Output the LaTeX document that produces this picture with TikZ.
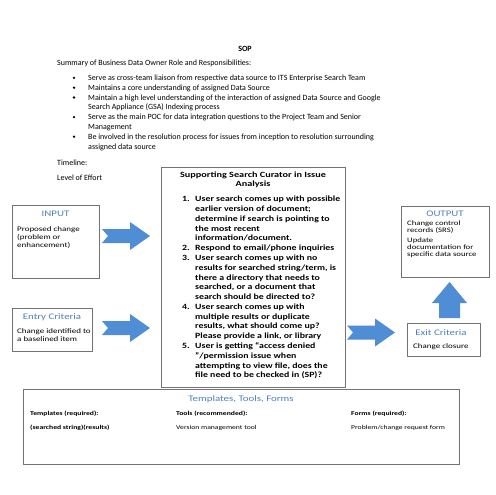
\documentclass[tikz,border=0pt]{standalone}
\usepackage{fontspec}
\setmainfont{Carlito}
\newfontfamily\widefont{Carlito}[FakeStretch=1.28]
\newfontfamily\stepfont{Carlito}[FakeStretch=1.23]
\usetikzlibrary{positioning}
\definecolor{titleblue}{RGB}{79,129,189}
\definecolor{arrowblue}{RGB}{79,141,212}
\definecolor{boxgray}{RGB}{115,115,115}
\newcommand{\bodysize}{\fontsize{8}{9.8}\selectfont}
\newcommand{\boxsize}{\widefont\fontsize{7}{8}\selectfont}
\newcommand{\outsize}{\widefont\fontsize{6.8}{7.3}\selectfont}
\newcommand{\stepsize}{\stepfont\fontsize{8}{9.78}\selectfont\bfseries}
\newcommand{\tablesize}{\widefont\fontsize{6}{7}\selectfont}

% multi-line nodes sit on the base line of their last line
\tikzset{
  txt/.style={anchor=base west, align=left, inner sep=0pt},
  boxframe/.style={draw=boxgray, line width=0.8pt},
  boxtitle/.style={anchor=base, inner sep=0pt, text=titleblue, font=\widefont\fontsize{8.5}{10}\selectfont},
  rarrow/.pic={\fill[arrowblue] (0,-7) -- (28,-7) -- (28,-14) -- (48,0) -- (28,14) -- (28,7) -- (0,7) -- (6,0) -- cycle;}
}

\begin{document}
\begin{tikzpicture}[x=1pt,y=-1pt]
  \useasboundingbox[fill=white] (0,0) rectangle (495,495);

  % heading and summary
  \node[anchor=base, inner sep=0pt, font=\bodysize\bfseries] (sop) at (245,51.5) {SOP};
  \node[txt, font=\bodysize] (summary) at (57,65.5) {Summary of Business Data Owner Role and Responsibilities:};
  \foreach \y in {80.5,90.3,100.1,119.7,139.3}
    \fill (74,\y-2.6) circle (1.3pt);
  \node[txt, font=\bodysize] (b1) at (88,80.5) {Serve as cross-team liaison from respective data source to ITS Enterprise Search Team};
  \node[txt, font=\bodysize] (b2) at (88,90.3) {Maintains a core understanding of assigned Data Source};
  \node[txt, font=\bodysize] (b3) at (88,109.9) {Maintain a high level understanding of the interaction of assigned Data Source and Google\\Search Appliance (GSA) Indexing process};
  \node[txt, font=\bodysize] (b4) at (88,129.5) {Serve as the main POC for data integration questions to the Project Team and Senior\\Management};
  \node[txt, font=\bodysize] (b5) at (88,149.1) {Be involved in the resolution process for issues from inception to resolution surrounding\\assigned data source};
  \node[txt, font=\bodysize] (timeline) at (57,165.5) {Timeline:};
  \node[txt, font=\bodysize] (effort) at (57,180.5) {Level of Effort};

  % input side
  \draw[boxframe] (12,205) rectangle (99,278);
  \node[boxtitle] (input) at (55.5,216) {INPUT};
  \node[txt, font=\boxsize] (inputtext) at (17,247.5) {Proposed change\\(problem or\\enhancement)};
  \draw[boxframe] (12,308) rectangle (92,351);
  \node[boxtitle] (entry) at (52,319) {Entry Criteria};
  \node[txt, font=\boxsize] (entrytext) at (17,341) {Change identified to\\a baselined item};
  \pic at (102,236) {rarrow};
  \pic at (102,328) {rarrow};

  % curator box
  \draw[boxframe] (161,167) rectangle (345,387);
  \node[anchor=base, align=center, inner sep=0pt, font=\widefont\fontsize{8}{9}\selectfont\bfseries] (curator) at (253,186.7) {Supporting Search Curator in Issue\\Analysis};
  \node[txt, font=\stepsize] (n1) at (182,201.8) {1.};
  \node[txt, font=\stepsize] (s1) at (195,240.9) {User search comes up with possible\\earlier version of document;\\determine if search is pointing to\\the most recent\\information/document.};
  \node[txt, font=\stepsize] (n2) at (182,250.7) {2.};
  \node[txt, font=\stepsize] (s2) at (195,250.7) {Respond to email/phone inquiries};
  \node[txt, font=\stepsize] (n3) at (182,260.5) {3.};
  \node[txt, font=\stepsize] (s3) at (195,299.6) {User search comes up with no\\results for searched string/term, is\\there a directory that needs to\\searched, or a document that\\search should be directed to?};
  \node[txt, font=\stepsize] (n4) at (182,309.4) {4.};
  \node[txt, font=\stepsize] (s4) at (195,338.7) {User search comes up with\\multiple results or duplicate\\results, what should come up?\\Please provide a link, or library};
  \node[txt, font=\stepsize] (n5) at (182,348.5) {5.};
  \node[txt, font=\stepsize] (s5) at (195,377.8) {User is getting “access denied\\”/permission issue when\\attempting to view file, does the\\file need to be checked in (SP)?};

  % output side
  \pic at (347,332.5) {rarrow};
  \draw[boxframe] (407,323) rectangle (480,356);
  \node[boxtitle] (exit) at (441,335) {Exit Criteria};
  \node[txt, font=\boxsize] (exittext) at (413,348.5) {Change closure};
  \fill[arrowblue] (439,318) -- (439,303) -- (432,303) -- (449.5,282) -- (467,303) -- (460,303) -- (460,318) -- cycle;
  \draw[boxframe] (401,206) rectangle (489,277);
  \node[boxtitle] (output) at (445,216) {OUTPUT};
  \node[txt, font=\outsize] (outtext) at (407,232.6) {Change control\\records (SRS)};
  \node[txt, font=\outsize] (updtext) at (407,256.6) {Update\\documentation for\\specific data source};

  % templates, tools, forms
  \draw[boxframe] (23,389) rectangle (459,464);
  \node[boxtitle, font=\widefont\fontsize{8.5}{10}\selectfont] (ttf) at (241,401) {Templates, Tools, Forms};
  \node[txt, font=\tablesize\bfseries] (templates) at (30,415) {Templates (required):};
  \node[txt, font=\tablesize\bfseries] (tools) at (176,415) {Tools (recommended):};
  \node[txt, font=\tablesize\bfseries] (forms) at (351,415) {Forms (required):};
  \node[txt, font=\tablesize\bfseries] (tempval) at (30,429) {(searched string)(results)};
  \node[txt, font=\tablesize] (toolval) at (176,429) {Version management tool};
  \node[txt, font=\tablesize] (formval) at (351,429) {Problem/change request form};
\end{tikzpicture}
\end{document}
